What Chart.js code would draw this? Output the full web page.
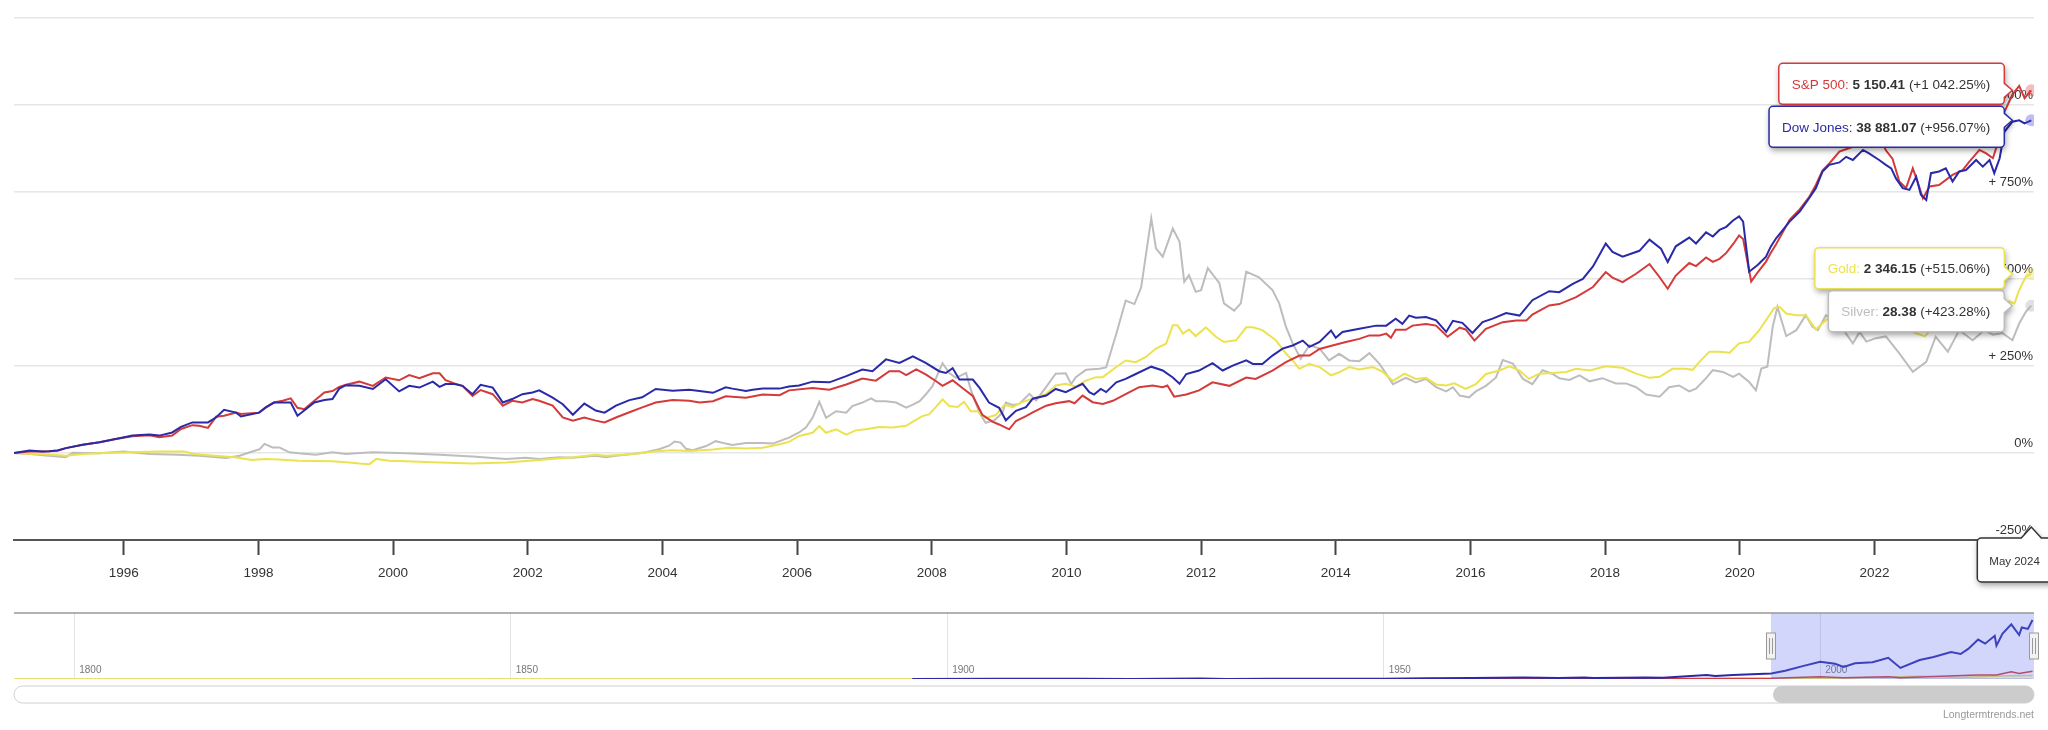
<!DOCTYPE html>
<html>
<head>
<meta charset="utf-8">
<script src="https://cdn.jsdelivr.net/npm/chart.js@4.4.1/dist/chart.umd.min.js"></script>
<style>
  html, body { margin: 0; padding: 0; background: #fff; }
  #wrap { position: relative; width: 2048px; height: 730px; overflow: hidden; background: #fff; }
  #main { position: absolute; left: 0; top: 0; }
  #nav { position: absolute; left: 0; top: 600px; }
</style>
</head>
<body>
<div id="wrap">
  <canvas id="main" width="2048" height="600"></canvas>
  <canvas id="nav" width="2048" height="130"></canvas>
</div>
<script>
// % change since May 1994
const dowYears = [1994.37,1994.6,1994.79,1994.89,1995.02,1995.14,1995.39,1995.64,1995.88,1996.13,
  1996.38,1996.53,1996.72,1996.85,1997.02,1997.12,1997.25,1997.37,1997.49,1997.67,
  1997.74,1998.01,1998.11,1998.23,1998.36,1998.48,1998.58,1998.68,1998.83,1998.98,
  1999.1,1999.2,1999.3,1999.5,1999.7,1999.89,2000.09,2000.24,2000.39,2000.59,
  2000.69,2000.78,2000.91,2001.03,2001.18,2001.3,2001.48,2001.63,2001.77,2001.92,
  2002.07,2002.17,2002.37,2002.52,2002.67,2002.84,2003.01,2003.14,2003.31,2003.51,
  2003.7,2003.9,2004.15,2004.4,2004.55,2004.75,2004.94,2005.04,2005.24,2005.34,
  2005.49,2005.74,2005.88,2006.03,2006.23,2006.48,2006.73,2006.97,2007.12,2007.32,
  2007.52,2007.72,2007.91,2008.11,2008.21,2008.31,2008.41,2008.61,2008.71,2008.85,
  2009.0,2009.1,2009.25,2009.4,2009.5,2009.7,2009.84,2009.99,2010.14,2010.24,
  2010.34,2010.41,2010.51,2010.59,2010.74,2010.88,2011.03,2011.26,2011.43,2011.58,
  2011.68,2011.78,2011.97,2012.17,2012.32,2012.47,2012.67,2012.77,2012.91,2013.06,
  2013.21,2013.36,2013.51,2013.61,2013.76,2013.93,2014.0,2014.1,2014.35,2014.6,
  2014.75,2014.89,2014.99,2015.09,2015.19,2015.34,2015.49,2015.64,2015.74,2015.88,
  2016.03,2016.18,2016.33,2016.53,2016.73,2016.92,2017.17,2017.32,2017.52,2017.67,
  2017.82,2018.01,2018.11,2018.26,2018.51,2018.66,2018.83,2018.93,2019.05,2019.25,
  2019.35,2019.5,2019.6,2019.7,2019.8,2019.9,2019.99,2020.05,2020.14,2020.27,
  2020.39,2020.46,2020.54,2020.74,2020.89,2021.03,2021.13,2021.23,2021.33,2021.48,
  2021.58,2021.68,2021.83,2021.92,2022.07,2022.17,2022.25,2022.32,2022.42,2022.52,
  2022.62,2022.69,2022.77,2022.84,2022.96,2023.06,2023.16,2023.26,2023.36,2023.51,
  2023.61,2023.71,2023.78,2023.86,2023.93,2024.05,2024.15,2024.23,2024.33];
const dowPct = [0,7,4,5,7,14,24,31,40,50,
  53,50,59,75,88,88,88,102,124,116,
  105,116,131,145,145,145,107,122,145,152,
  155,185,195,193,184,212,177,193,188,205,
  190,198,198,193,169,196,188,145,155,169,
  174,180,159,140,110,142,122,116,136,152,
  160,184,179,182,178,173,189,185,178,182,
  185,185,191,194,205,203,221,240,235,269,
  259,278,259,235,230,244,211,211,187,145,
  130,94,121,132,156,165,184,175,189,199,
  175,168,184,175,203,213,227,248,237,217,
  199,227,237,258,237,251,266,256,256,280,
  300,309,323,305,319,352,331,348,357,366,
  366,386,371,395,389,391,381,348,380,374,
  345,376,386,402,395,439,465,462,486,500,
  536,602,578,564,581,613,587,549,594,619,
  602,634,622,641,650,668,680,665,521,541,
  564,593,617,665,694,732,761,809,828,835,
  851,842,871,861,842,828,818,789,761,756,
  794,742,727,804,809,818,780,809,813,842,
  823,842,804,847,923,952,956,947,956.07];

const spYears = [1994.37,1994.6,1994.79,1994.89,1995.02,1995.14,1995.39,1995.64,1995.88,1996.13,
  1996.38,1996.53,1996.72,1996.85,1997.02,1997.12,1997.25,1997.37,1997.49,1997.67,
  1997.74,1998.01,1998.11,1998.23,1998.36,1998.48,1998.58,1998.68,1998.83,1998.98,
  1999.1,1999.2,1999.3,1999.5,1999.7,1999.89,2000.09,2000.24,2000.39,2000.59,
  2000.69,2000.78,2000.91,2001.03,2001.18,2001.3,2001.48,2001.63,2001.77,2001.92,
  2002.07,2002.17,2002.37,2002.52,2002.67,2002.84,2003.01,2003.14,2003.31,2003.51,
  2003.7,2003.9,2004.15,2004.4,2004.55,2004.75,2004.94,2005.24,2005.49,2005.74,
  2005.88,2006.23,2006.48,2006.73,2006.97,2007.17,2007.37,2007.52,2007.62,2007.77,
  2007.91,2008.06,2008.16,2008.31,2008.46,2008.61,2008.75,2008.9,2009.0,2009.15,
  2009.25,2009.4,2009.5,2009.7,2009.84,2010.04,2010.12,2010.24,2010.39,2010.54,
  2010.69,2010.88,2011.08,2011.28,2011.43,2011.5,2011.6,2011.78,2011.97,2012.17,
  2012.42,2012.67,2012.81,2013.06,2013.26,2013.46,2013.61,2013.76,2013.95,2014.15,
  2014.35,2014.5,2014.65,2014.75,2014.82,2014.89,2015.04,2015.14,2015.34,2015.49,
  2015.66,2015.84,2015.93,2016.06,2016.23,2016.48,2016.68,2016.83,2016.92,2017.17,
  2017.32,2017.57,2017.82,2018.01,2018.11,2018.26,2018.46,2018.66,2018.81,2018.93,
  2019.05,2019.25,2019.35,2019.5,2019.6,2019.7,2019.8,2019.9,2019.99,2020.05,
  2020.17,2020.27,2020.39,2020.46,2020.54,2020.74,2020.89,2021.03,2021.13,2021.23,
  2021.33,2021.48,2021.68,2021.83,2021.97,2022.07,2022.17,2022.27,2022.37,2022.47,
  2022.57,2022.64,2022.72,2022.82,2022.96,2023.16,2023.31,2023.41,2023.56,2023.66,
  2023.76,2023.88,2023.93,2024.05,2024.15,2024.23,2024.33];
const spPct = [0,4,4,5,7,14,24,31,40,48,
  51,45,50,69,80,78,72,104,107,116,
  112,116,131,145,150,157,130,126,150,174,
  178,190,196,205,193,217,209,224,215,229,
  229,209,200,193,164,181,169,136,150,145,
  155,150,136,102,93,102,93,88,102,117,
  131,145,152,150,145,149,163,159,168,166,
  180,187,182,197,214,208,235,235,224,240,
  226,207,193,209,186,164,110,90,82,68,
  92,106,117,136,143,149,143,165,146,141,
  150,169,189,194,189,194,162,168,180,203,
  193,217,213,237,261,280,280,299,309,319,
  328,338,338,343,331,354,354,366,371,366,
  334,360,355,323,357,376,381,381,398,424,
  428,448,477,520,504,491,515,543,505,472,
  510,546,537,562,549,558,575,600,625,615,
  493,520,550,575,600,670,700,735,770,812,
  832,866,880,900,935,910,870,845,780,761,
  818,780,732,766,770,799,813,837,871,861,
  847,920,980,1030,1055,1020,1042.25];

const goldYears = [1994.37,1994.6,1994.89,1995.14,1995.4,1995.7,1996.13,1996.5,1996.9,1997.05,
  1997.35,1997.65,1997.9,1998.1,1998.3,1998.6,1999.1,1999.35,1999.5,1999.65,
  1999.75,1999.94,2000.19,2000.69,2001.18,2001.68,2002.17,2002.67,2003.01,2003.16,
  2003.41,2003.66,2003.9,2004.15,2004.4,2004.75,2004.99,2005.24,2005.49,2005.74,
  2005.88,2006.03,2006.23,2006.33,2006.43,2006.58,2006.73,2006.87,2007.02,2007.22,
  2007.42,2007.62,2007.72,2007.86,2007.96,2008.06,2008.16,2008.26,2008.38,2008.48,
  2008.58,2008.68,2008.8,2008.95,2009.08,2009.2,2009.35,2009.5,2009.7,2009.84,
  2009.99,2010.14,2010.29,2010.44,2010.54,2010.74,2010.88,2011.03,2011.18,2011.33,
  2011.48,2011.58,2011.65,2011.73,2011.82,2011.92,2012.07,2012.22,2012.34,2012.52,
  2012.67,2012.77,2012.91,2013.11,2013.26,2013.36,2013.46,2013.61,2013.76,2013.93,
  2014.05,2014.2,2014.35,2014.55,2014.7,2014.85,2015.02,2015.19,2015.34,2015.49,
  2015.64,2015.76,2015.93,2016.08,2016.23,2016.43,2016.58,2016.73,2016.87,2017.02,
  2017.22,2017.42,2017.57,2017.77,2018.01,2018.26,2018.46,2018.66,2018.81,2019.0,
  2019.2,2019.3,2019.4,2019.55,2019.7,2019.85,2019.99,2020.14,2020.29,2020.44,
  2020.51,2020.59,2020.69,2020.84,2020.98,2021.13,2021.28,2021.4,2021.55,2021.75,
  2022.0,2022.2,2022.4,2022.6,2022.75,2022.9,2023.1,2023.3,2023.5,2023.7,
  2023.85,2024.0,2024.08,2024.15,2024.25,2024.33];
const goldPct = [0,-2,-4,-8,-3,0,2,4,4,-3,
  -8,-12,-20,-17,-19,-22,-24,-27,-30,-32,
  -17,-22,-24,-27,-30,-27,-20,-12,-5,-8,
  -5,-1,5,8,6,10,15,13,15,25,
  32,49,58,77,58,68,53,65,68,75,
  73,78,90,106,111,132,154,135,132,147,
  120,120,101,109,139,132,147,156,170,194,
  199,191,208,218,218,247,266,261,276,300,
  314,367,367,343,355,336,361,334,319,324,
  361,361,353,324,286,266,242,256,247,223,
  232,247,240,247,233,207,228,213,216,197,
  194,200,184,198,227,237,249,237,213,228,
  230,233,242,237,249,245,228,216,219,242,
  242,239,262,291,291,288,315,320,353,396,
  416,420,401,396,396,355,382,398,380,372,
  378,410,380,345,335,370,395,420,405,395,
  410,436,430,468,507,515.06];

const silverYears = [1994.37,1994.6,1994.89,1995.14,1995.24,1995.64,1996.0,1996.38,1996.8,1997.12,
  1997.52,1997.72,1997.92,1998.02,1998.09,1998.21,1998.31,1998.46,1998.6,1998.85,
  1999.1,1999.3,1999.45,1999.7,2000.19,2000.69,2001.18,2001.68,2001.97,2002.17,
  2002.47,2002.67,2003.01,2003.16,2003.31,2003.56,2003.75,2003.95,2004.1,2004.18,
  2004.27,2004.35,2004.45,2004.65,2004.79,2004.94,2005.04,2005.24,2005.49,2005.64,
  2005.88,2006.03,2006.13,2006.23,2006.33,2006.43,2006.58,2006.73,2006.82,2006.97,
  2007.1,2007.17,2007.32,2007.47,2007.62,2007.72,2007.82,2007.91,2008.01,2008.16,
  2008.26,2008.36,2008.51,2008.58,2008.71,2008.8,2008.93,2009.05,2009.1,2009.2,
  2009.3,2009.45,2009.55,2009.7,2009.84,2009.99,2010.07,2010.14,2010.29,2010.49,
  2010.59,2010.74,2010.88,2011.01,2011.11,2011.26,2011.33,2011.43,2011.58,2011.68,
  2011.75,2011.82,2011.92,2012.0,2012.1,2012.27,2012.34,2012.49,2012.59,2012.67,
  2012.86,2013.06,2013.16,2013.26,2013.36,2013.48,2013.61,2013.76,2013.9,2014.05,
  2014.2,2014.35,2014.5,2014.65,2014.85,2015.04,2015.19,2015.34,2015.49,2015.64,
  2015.74,2015.84,2015.98,2016.08,2016.23,2016.38,2016.48,2016.63,2016.78,2016.92,
  2017.07,2017.22,2017.32,2017.47,2017.62,2017.77,2017.96,2018.16,2018.31,2018.46,
  2018.61,2018.81,2018.95,2019.1,2019.25,2019.35,2019.5,2019.6,2019.75,2019.9,
  2019.99,2020.14,2020.24,2020.32,2020.41,2020.49,2020.56,2020.69,2020.84,2020.98,
  2021.08,2021.16,2021.28,2021.48,2021.68,2021.78,2021.88,2022.02,2022.17,2022.37,
  2022.57,2022.77,2022.91,2023.09,2023.26,2023.46,2023.63,2023.76,2023.9,2024.05,
  2024.15,2024.25,2024.33];
const silverPct = [0,-3,-8,-12,1,-1,4,-3,-5,-8,
  -14,-8,5,11,26,16,16,2,-1,-5,
  2,-3,-1,2,-1,-5,-10,-17,-14,-17,
  -12,-14,-8,-12,-8,-3,2,11,21,33,
  30,12,8,20,34,27,23,29,29,27,
  44,59,73,101,147,101,120,116,135,145,
  157,149,149,145,130,139,149,168,192,258,
  230,216,230,182,115,87,94,116,145,138,
  141,170,151,190,228,229,198,218,239,242,
  246,342,438,428,476,674,588,564,645,607,
  492,511,463,468,531,489,430,409,430,521,
  505,468,430,363,315,271,310,300,266,285,
  266,264,287,256,198,216,203,213,189,177,
  189,165,160,177,193,217,267,257,213,198,
  238,227,215,210,223,206,215,200,200,189,
  168,162,189,194,177,185,215,238,233,219,
  228,204,180,243,248,363,420,336,353,396,
  363,353,396,370,315,348,320,330,335,286,
  233,262,334,291,353,324,353,340,345,324,
  372,406,423.28];

const xTickYears = [1996,1998,2000,2002,2004,2006,2008,2010,2012,2014,2016,2018,2020,2022];
const yTickValues = [-250,0,250,500,750,1000,1250];

const tipNames = ["S&P 500", "Dow Jones", "Gold", "Silver"];
const tipValues = ["5 150.41", "38 881.07", "2 346.15", "28.38"];
const tipChanges = ["+1 042.25%", "+956.07%", "+515.06%", "+423.28%"];
const lastDateLabel = "May 2024";

// navigator: index levels over the whole history
const navDowYears = [1896,1906,1915,1921,1929,1932,1937,1942,1946,1950,1955,1960,1966,1970,1973,1974,1980,1982,1987,1988,
  1990,1994.4,1996,1998,2000,2001.7,2002.7,2004,2006,2007.8,2009.2,2011.4,2013,2015,2016.1,2017,2018.1,2018.9,2020,2020.2,
  2020.9,2021.9,2022.8,2023.1,2023.8,2024.33];
const navDowValues = [40,95,90,70,340,60,180,100,190,230,450,620,990,740,1000,600,950,800,2600,2000,
  2700,3700,5500,8500,11300,10000,8000,10400,11000,14000,7300,12500,14500,17800,16500,20000,26000,23300,28500,22000,
  30000,36000,29000,34000,33000,38881];
const navSpYears = [1928,1932,1950,1970,1980,1990,1994.4,2000,2002.7,2007.8,2009.2,2013,2018,2020.2,2021.9,2022.8,2024.33];
const navSpValues = [24,7,17,90,110,330,450,1450,850,1500,750,1600,2700,2600,4700,3600,5150];
const navGoldYears = [1793.1,1834,1933,1971,1980,2000,2011.6,2015.9,2020.6,2024.33];
const navGoldValues = [19.4,20.7,35,40,600,280,1800,1060,2000,2346];
const navSilverYears = [1793.1,1873,1933,1971,1980,2000,2011.3,2020.6,2024.33];
const navSilverValues = [1.3,1.3,0.4,1.6,20,5,42,27,28];
const navTickYears = [1800,1850,1900,1950,2000];

const DOW = "#2a2aa8";
const SP = "#d43a3a";
const GOLD = "#ece250";
const SILVER = "#bdbdbd";
const SANS = "'Liberation Sans', Arial, sans-serif";

const toPoints = (xs, ys) => xs.map((x, i) => ({ x, y: ys[i] }));

function lineSeries(label, xs, ys, color, halo) {
  return {
    label,
    data: toPoints(xs, ys),
    borderColor: color,
    borderWidth: 2,
    tension: 0,
    pointRadius: (c) => (c.dataIndex === xs.length - 1 ? 6 : 0),
    pointBackgroundColor: halo,
    pointBorderWidth: 0,
    pointHoverRadius: 0,
  };
}

function calloutPath(ctx, x, y, w, h, r, tipX, tipY, side) {
  ctx.beginPath();
  ctx.moveTo(x + r, y);
  if (side === "top") {
    ctx.lineTo(tipX - 10, y);
    ctx.lineTo(tipX, tipY);
    ctx.lineTo(tipX + 10, y);
  }
  ctx.lineTo(x + w - r, y);
  ctx.arcTo(x + w, y, x + w, y + r, r);
  if (side === "right") {
    ctx.lineTo(x + w, tipY - 7);
    ctx.lineTo(tipX, tipY);
    ctx.lineTo(x + w, tipY + 7);
  }
  ctx.lineTo(x + w, y + h - r);
  ctx.arcTo(x + w, y + h, x + w - r, y + h, r);
  ctx.lineTo(x + r, y + h);
  ctx.arcTo(x, y + h, x, y + h - r, r);
  ctx.lineTo(x, y + r);
  ctx.arcTo(x, y, x + r, y, r);
  ctx.closePath();
}

function drawBox(ctx, x, y, w, h, tipX, tipY, side, border) {
  ctx.save();
  ctx.shadowColor = "rgba(0,0,0,0.4)";
  ctx.shadowBlur = 6;
  ctx.shadowOffsetX = 1;
  ctx.shadowOffsetY = 3;
  calloutPath(ctx, x, y, w, h, 4, tipX, tipY, side);
  ctx.fillStyle = "#fff";
  ctx.fill();
  ctx.restore();
  calloutPath(ctx, x, y, w, h, 4, tipX, tipY, side);
  ctx.strokeStyle = border;
  ctx.lineWidth = 1.5;
  ctx.stroke();
}

// split tooltips like the original: one box per series, stacked without overlap
const tooltipBoxes = {
  id: "tooltipBoxes",
  afterDatasetsDraw(chart) {
    const ctx = chart.ctx;
    const boxH = 41;
    const gap = 2;
    const order = [1, 0, 2, 3]; // dataset index for each tip name
    const items = order.map((dsIndex, i) => {
      const meta = chart.getDatasetMeta(dsIndex);
      const pt = meta.data[meta.data.length - 1];
      return { i, x: pt.x, y: pt.y, color: chart.data.datasets[dsIndex].borderColor };
    }).sort((a, b) => a.y - b.y);

    let groups = items.map((it) => ({ items: [it], mean: it.y }));
    let merged = true;
    while (merged) {
      merged = false;
      for (let g = 0; g < groups.length - 1; g++) {
        const a = groups[g];
        const b = groups[g + 1];
        const aBottom = a.mean + (a.items.length * (boxH + gap)) / 2;
        const bTop = b.mean - (b.items.length * (boxH + gap)) / 2;
        if (aBottom > bTop) {
          const all = a.items.concat(b.items);
          groups.splice(g, 2, { items: all, mean: all.reduce((s, it) => s + it.y, 0) / all.length });
          merged = true;
          break;
        }
      }
    }

    const fs = "13.5px ";
    ctx.save();
    groups.forEach((g) => {
      let top = g.mean - (g.items.length * (boxH + gap) - gap) / 2;
      g.items.forEach((it) => {
        const name = tipNames[it.i] + ": ";
        const value = tipValues[it.i];
        const change = " (" + tipChanges[it.i] + ")";
        ctx.font = fs + SANS;
        const w1 = ctx.measureText(name).width;
        const w3 = ctx.measureText(change).width;
        ctx.font = "bold " + fs + SANS;
        const w2 = ctx.measureText(value).width;
        const w = w1 + w2 + w3 + 27;
        const right = it.x - 27;
        const left = right - w;
        const tipY = Math.min(Math.max(it.y, top + 10), top + boxH - 10);
        drawBox(ctx, left, top, w, boxH, right + 8, tipY, "right", it.color);

        const cy = top + boxH / 2 + 1;
        ctx.textBaseline = "middle";
        ctx.textAlign = "left";
        ctx.font = fs + SANS;
        ctx.fillStyle = it.color;
        ctx.fillText(name, left + 13, cy);
        ctx.font = "bold " + fs + SANS;
        ctx.fillStyle = "#333";
        ctx.fillText(value, left + 13 + w1, cy);
        ctx.font = fs + SANS;
        ctx.fillText(change, left + 13 + w1 + w2, cy);
        top += boxH + gap;
      });
    });

    // date label on the x axis
    const xs = chart.scales.x;
    const ax = xs.getPixelForValue(dowYears[dowYears.length - 1]);
    const ay = chart.chartArea.bottom;
    drawBox(ctx, ax - 54, ay - 2, 92, 44, ax, ay - 13, "top", "#333");
    ctx.font = "11.5px " + SANS;
    ctx.fillStyle = "#333";
    ctx.textBaseline = "middle";
    ctx.fillText(lastDateLabel, ax - 42, ay + 22);
    ctx.restore();
  },
};

const yLabel = (v) => (v === 1250 ? "" : v > 0 ? "+ " + v + "%" : v + "%");

new Chart(document.getElementById("main"), {
  type: "line",
  data: {
    datasets: [
      lineSeries("Dow Jones", dowYears, dowPct, DOW, "rgba(70,70,220,0.35)"),
      lineSeries("S&P 500", spYears, spPct, SP, "rgba(225,70,70,0.35)"),
      lineSeries("Gold", goldYears, goldPct, GOLD, "rgba(236,226,80,0.4)"),
      lineSeries("Silver", silverYears, silverPct, SILVER, "rgba(180,180,180,0.4)"),
    ],
  },
  options: {
    responsive: false,
    animation: false,
    devicePixelRatio: 1,
    layout: { padding: { left: 14, right: 14, top: 18, bottom: 0 } },
    plugins: { legend: { display: false }, tooltip: { enabled: false } },
    scales: {
      x: {
        type: "linear",
        min: 1994.37,
        max: 2024.37,
        afterBuildTicks: (s) => { s.ticks = xTickYears.map((v) => ({ value: v })); },
        afterFit: (s) => { s.height = 60; },
        border: { display: true, color: "#555", width: 2 },
        grid: { drawOnChartArea: false, drawTicks: true, tickLength: 15, tickWidth: 2, tickColor: "#444" },
        ticks: { font: { family: SANS, size: 13.5 }, color: "#333", padding: 10, maxRotation: 0, autoSkip: false, callback: (v) => String(v) },
      },
      y: {
        position: "right",
        min: -250,
        max: 1250,
        afterBuildTicks: (s) => { s.ticks = yTickValues.map((v) => ({ value: v })); },
        afterFit: (s) => { s.width = 0; },
        border: { display: false },
        grid: { color: "#e6e6e6", lineWidth: 1.5, drawTicks: false },
        ticks: { mirror: true, padding: -1, labelOffset: -10, font: { family: SANS, size: 13 }, color: "#333", callback: yLabel },
      },
    },
  },
  plugins: [tooltipBoxes],
});

const navDecor = {
  id: "navDecor",
  beforeDatasetsDraw(chart) {
    const { ctx, chartArea: a, scales: { x } } = chart;
    ctx.save();
    ctx.font = "10px " + SANS;
    ctx.fillStyle = "#777";
    ctx.textBaseline = "alphabetic";
    navTickYears.forEach((yr) => ctx.fillText(String(yr), x.getPixelForValue(yr) + 5, a.bottom - 6));
    ctx.restore();
  },
  afterDatasetsDraw(chart) {
    const { ctx, chartArea: a, scales: { x } } = chart;
    const x0 = x.getPixelForValue(dowYears[0]);
    const x1 = a.right;
    ctx.save();
    ctx.fillStyle = "rgba(102,120,240,0.3)";
    ctx.fillRect(x0, a.top, x1 - x0, a.bottom - a.top);

    ctx.strokeStyle = "#999";
    ctx.lineWidth = 1.5;
    ctx.beginPath();
    ctx.moveTo(a.left, a.top);
    ctx.lineTo(a.right, a.top);
    ctx.stroke();

    const mid = (a.top + a.bottom) / 2;
    [x0, x1].forEach((hx) => {
      ctx.fillStyle = "#f2f2f2";
      ctx.strokeStyle = "#999";
      ctx.lineWidth = 1;
      ctx.fillRect(hx - 4.5, mid - 13, 9, 26);
      ctx.strokeRect(hx - 4.5, mid - 13, 9, 26);
      ctx.beginPath();
      ctx.moveTo(hx - 1.5, mid - 8);
      ctx.lineTo(hx - 1.5, mid + 8);
      ctx.moveTo(hx + 1.5, mid - 8);
      ctx.lineTo(hx + 1.5, mid + 8);
      ctx.stroke();
    });

    // scrollbar
    const sTop = a.bottom + 7;
    ctx.beginPath();
    ctx.roundRect(a.left, sTop, a.right - a.left, 17, 8.5);
    ctx.fillStyle = "#fff";
    ctx.fill();
    ctx.strokeStyle = "#cfcfcf";
    ctx.lineWidth = 1;
    ctx.stroke();
    ctx.beginPath();
    ctx.roundRect(x0 + 2, sTop, x1 - x0 - 2, 17, 8.5);
    ctx.fillStyle = "#cccccc";
    ctx.fill();

    ctx.font = "10.5px " + SANS;
    ctx.fillStyle = "#999";
    ctx.textAlign = "right";
    ctx.textBaseline = "middle";
    ctx.fillText("Longtermtrends.net", a.right, sTop + 29);
    ctx.restore();
  },
};

const navLine = (xs, ys, color, width) => ({
  data: toPoints(xs, ys),
  borderColor: color,
  borderWidth: width,
  pointRadius: 0,
  tension: 0,
});

new Chart(document.getElementById("nav"), {
  type: "line",
  data: {
    datasets: [
      navLine(navDowYears, navDowValues, DOW, 2),
      navLine(navSpYears, navSpValues, SP, 1.5),
      navLine(navGoldYears, navGoldValues, GOLD, 1.5),
      navLine(navSilverYears, navSilverValues, SILVER, 1),
    ],
  },
  options: {
    responsive: false,
    animation: false,
    devicePixelRatio: 1,
    layout: { padding: { left: 14, right: 14, top: 13, bottom: 51 } },
    plugins: { legend: { display: false }, tooltip: { enabled: false } },
    scales: {
      x: {
        type: "linear",
        min: 1793.1,
        max: 2024.5,
        afterBuildTicks: (s) => { s.ticks = navTickYears.map((v) => ({ value: v })); },
        afterFit: (s) => { s.height = 0; },
        ticks: { display: false },
        border: { display: false },
        grid: { color: "#e3e3e3", lineWidth: 1, drawTicks: false },
      },
      y: { display: false, min: 0, max: 43500 },
    },
  },
  plugins: [navDecor],
});
</script>
</body>
</html>
